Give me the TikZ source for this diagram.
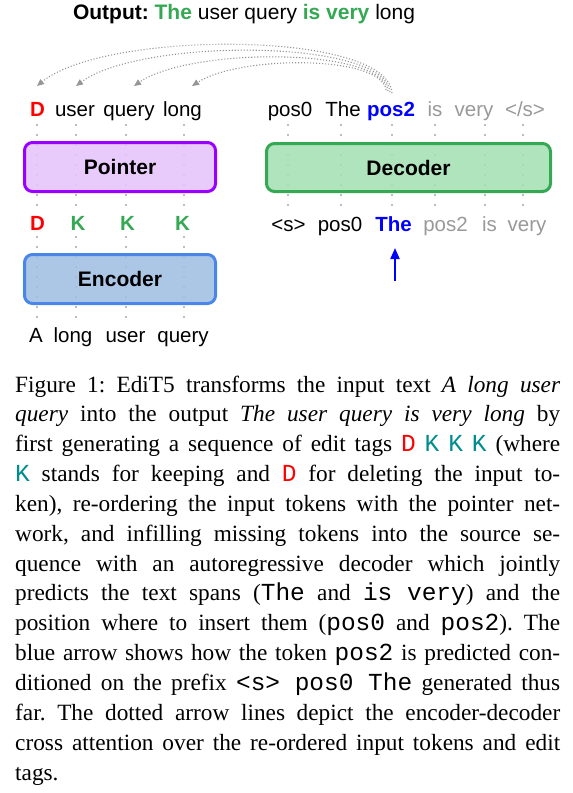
\documentclass[tikz,border=0pt]{standalone}
\usepackage{fontspec}
\setmainfont{Liberation Serif}
\setsansfont{Liberation Sans}
\setmonofont{Liberation Mono}[Scale=1.05]
\usetikzlibrary{arrows.meta,calc}
\pgfdeclarelayer{bg}
\pgfsetlayers{bg,main}
\frenchspacing
\definecolor{gG}{RGB}{52,168,83}
\definecolor{rD}{RGB}{255,0,0}
\definecolor{bB}{RGB}{0,0,255}
\definecolor{gT}{RGB}{153,153,153}
\definecolor{ptrF}{RGB}{230,196,250}
\definecolor{ptrD}{RGB}{153,0,255}
\definecolor{decF}{RGB}{164,224,180}
\definecolor{decD}{RGB}{52,168,83}
\definecolor{encF}{RGB}{160,190,226}
\definecolor{encD}{RGB}{74,134,232}
\definecolor{dotC}{RGB}{165,165,165}
\definecolor{arcC}{RGB}{150,150,150}
\definecolor{capK}{RGB}{0,140,140}
\begin{document}
\begin{tikzpicture}[x=1pt,y=-1pt,
  tok/.style={font=\sffamily\fontsize{20.5}{24}\selectfont, inner sep=0pt, text height=14.5pt, text depth=4.2pt, anchor=base},
  tagtok/.style={tok, font=\sffamily\bfseries\fontsize{20.5}{24}\selectfont},
  netbox/.style={rounded corners=8pt, line width=3pt, fill opacity=0.88, text opacity=1, draw opacity=1, font=\sffamily\bfseries\fontsize{21}{24}\selectfont},
  vdots/.style={draw=dotC, line width=2.2pt, line cap=round, dash pattern=on 0pt off 10pt},
  att/.style={draw=arcC, line width=1.1pt, dash pattern=on 1.1pt off 1.9pt, -{Triangle[length=7pt,width=6pt]}},
  barrow/.style={draw=bB, line width=2pt, -{Triangle[length=11pt,width=9pt]}},
  captxt/.style={anchor=base west, inner sep=0pt, font=\rmfamily\frenchspacing\fontsize{23.3}{29.85}\selectfont},
]
\useasboundingbox (0,0) rectangle (573,793);

% title
\node[tok, font=\sffamily\fontsize{21}{24}\selectfont] (title) at (244,19)
  {\textbf{Output:} \textbf{\color{gG}The} user query \textbf{\color{gG}is very} long};

% top tokens
\node[tagtok, text=rD] (tD) at (37.5,116) {D};
\node[tok] (tuser) at (75,116) {user};
\node[tok] (tquery) at (129,116) {query};
\node[tok] (tlong) at (182.5,116) {long};
\node[tok] (tpos0) at (290,116) {pos0};
\node[tok] (tThe) at (343,116) {The};
\node[tagtok, text=bB] (tpos2) at (391,116) {pos2};
\node[tok, text=gT] (tis) at (435,116) {is};
\node[tok, text=gT] (tvery) at (474,116) {very};
\node[tok, text=gT] (tend) at (525,116) {</s>};

% boxes
\node[netbox, draw=ptrD, fill=ptrF, minimum width=191pt, minimum height=49pt] (ptr) at (120,167) {Pointer};
\node[netbox, draw=decD, fill=decF, minimum width=284pt, minimum height=48pt] (dec) at (408.5,167.5) {Decoder};
\node[netbox, draw=encD, fill=encF, minimum width=191pt, minimum height=49pt] (enc) at (120,279) {Encoder};

% tags
\node[tagtok, text=rD] (kD) at (37.5,230) {D};
\node[tagtok, text=gG] (k1) at (78,230) {K};
\node[tagtok, text=gG] (k2) at (127.5,230) {K};
\node[tagtok, text=gG] (k3) at (182.5,230) {K};

% decoder input
\node[tok] (d1) at (288.5,231) {<s>};
\node[tok] (d2) at (340,231) {pos0};
\node[tagtok, text=bB] (d3) at (393.5,231) {The};
\node[tok, text=gT] (d4) at (445.5,231) {pos2};
\node[tok, text=gT] (d5) at (489.5,231) {is};
\node[tok, text=gT] (d6) at (527,231) {very};

% input tokens
\node[tok] (iA) at (36,342) {A};
\node[tok] (ilong) at (73,342) {long};
\node[tok] (iuser) at (125.5,342) {user};
\node[tok] (iquery) at (183,342) {query};

% dotted column guides
\begin{pgfonlayer}{bg}
\foreach \c in {37,76,126,184}{
  \draw[vdots] (\c,125) -- (\c,207);
  \draw[vdots] (\c,237) -- (\c,320);
}
\foreach \c in {288,341,392,435,485,523}{
  \draw[vdots] (\c,125) -- (\c,207);
}
\end{pgfonlayer}

% cross attention arcs
\coordinate (s1) at (392,93);
\coordinate (s2) at (390,92);
\coordinate (s3) at (388,91);
\coordinate (s4) at (386,90);
\coordinate (eD) at (37,86);
\coordinate (euser) at (76,86);
\coordinate (equery) at (134,86);
\coordinate (elong) at (192,86);
\draw[att] (s1) .. controls (388,30) and (105,30) .. (eD);
\draw[att] (s2) .. controls (386,38) and (140,38) .. (euser);
\draw[att] (s3) .. controls (384,47) and (190,47) .. (equery);
\draw[att] (s4) .. controls (382,55) and (240,55) .. (elong);

% blue arrow
\coordinate (btail) at (395,281);
\coordinate (bhead) at (395,248);
\draw[barrow] (btail) -- (bhead);

% caption
\node[captxt] (c1) at (15,392) {\makebox[545pt][s]{Figure 1: EdiT5 transforms the input text \emph{A long user}}};
\node[captxt] (c2) at (15,421.85) {\makebox[545pt][s]{\emph{query} into the output \emph{The user query is very long} by}};
\node[captxt] (c3) at (15,451.7) {\makebox[545pt][s]{first generating a sequence of edit tags \texttt{\textcolor{rD}{D}} \texttt{\textcolor{capK}{K}} \texttt{\textcolor{capK}{K}} \texttt{\textcolor{capK}{K}} (where}};
\node[captxt] (c4) at (15,481.55) {\makebox[545pt][s]{\texttt{\textcolor{capK}{K}} stands for keeping and \texttt{\textcolor{rD}{D}} for deleting the input to-}};
\node[captxt] (c5) at (15,511.4) {\makebox[545pt][s]{ken), re-ordering the input tokens with the pointer net-}};
\node[captxt] (c6) at (15,541.25) {\makebox[545pt][s]{work, and infilling missing tokens into the source se-}};
\node[captxt] (c7) at (15,571.1) {\makebox[545pt][s]{quence with an autoregressive decoder which jointly}};
\node[captxt] (c8) at (15,600.95) {\makebox[545pt][s]{predicts the text spans (\texttt{The} and \texttt{is very}) and the}};
\node[captxt] (c9) at (15,630.8) {\makebox[545pt][s]{position where to insert them (\texttt{pos0} and \texttt{pos2}). The}};
\node[captxt] (c10) at (15,660.65) {\makebox[545pt][s]{blue arrow shows how the token \texttt{pos2} is predicted con-}};
\node[captxt] (c11) at (15,690.5) {\makebox[545pt][s]{ditioned on the prefix \texttt{<s> pos0 The} generated thus}};
\node[captxt] (c12) at (15,720.35) {\makebox[545pt][s]{far. The dotted arrow lines depict the encoder-decoder}};
\node[captxt] (c13) at (15,750.2) {\makebox[545pt][s]{cross attention over the re-ordered input tokens and edit}};
\node[captxt] (c14) at (15,780.05) {tags.};
\end{tikzpicture}
\end{document}
